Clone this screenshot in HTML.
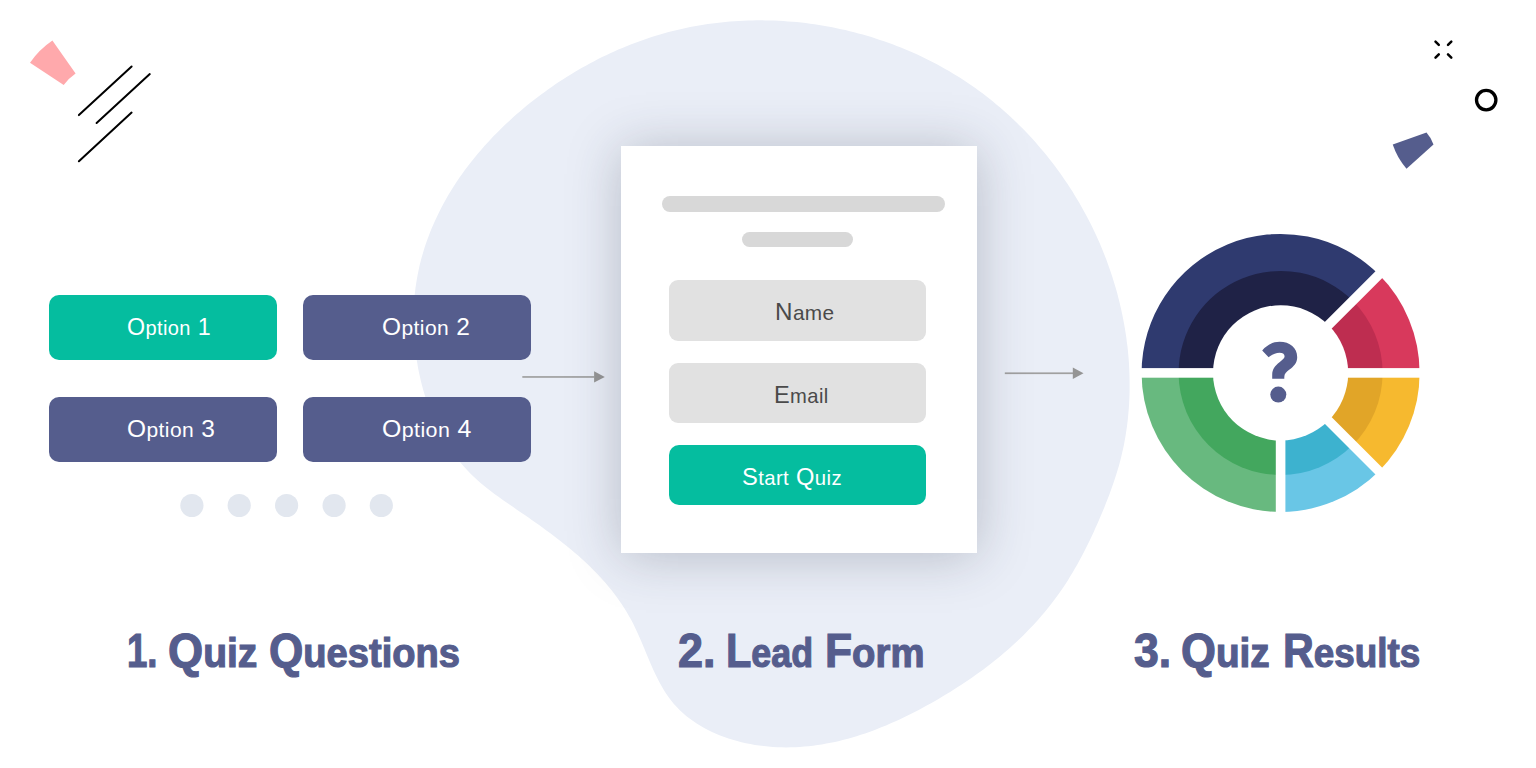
<!DOCTYPE html>
<html><head><meta charset="utf-8">
<style>
html,body{margin:0;padding:0;background:#fff;}
body{width:1536px;height:768px;position:relative;overflow:hidden;font-family:"Liberation Sans",sans-serif;}
.abs{position:absolute;}
svg.full{position:absolute;left:0;top:0;}
.opt{position:absolute;border-radius:10px;}
.teal{background:#05bd9f;}
.purp{background:#555d8d;}
.txt{position:absolute;white-space:nowrap;line-height:1;transform-origin:0 0;}
.card{position:absolute;left:621px;top:146px;width:356px;height:407px;background:#fff;box-shadow:0 3px 50px rgba(45,50,70,0.27);}
.bar{position:absolute;background:#d8d8d8;border-radius:8px;}
.inp{position:absolute;left:47.5px;width:257.5px;height:60.5px;background:#e1e1e1;border-radius:9px;}
.title{position:absolute;white-space:nowrap;line-height:1;font-weight:700;color:#555d8d;transform-origin:0 0;-webkit-text-stroke:1.2px #555d8d;font-size:47.5px;}
.lc{font-size:41px;}
.s{font-size:86%;}
</style></head><body>
<svg class="full" width="1536" height="768" viewBox="0 0 1536 768">
<path d="M425.6 244.5 L427.1 240.3 L428.6 236.2 L430.2 232.1 L431.8 228.0 L433.6 223.9 L435.4 219.9 L437.3 215.9 L439.2 211.9 L441.2 208.0 L443.3 204.1 L445.4 200.2 L447.6 196.3 L449.9 192.5 L452.2 188.7 L454.6 185.0 L457.0 181.3 L459.5 177.6 L462.1 173.9 L464.7 170.3 L467.4 166.7 L470.1 163.2 L472.9 159.7 L475.7 156.2 L478.6 152.8 L481.5 149.4 L484.4 146.0 L487.5 142.7 L490.5 139.4 L493.6 136.1 L496.8 132.9 L500.0 129.7 L503.2 126.5 L506.4 123.4 L509.8 120.4 L513.1 117.3 L516.5 114.3 L519.9 111.4 L523.3 108.5 L526.8 105.6 L530.3 102.8 L533.9 100.0 L537.5 97.2 L541.1 94.5 L544.7 91.9 L548.3 89.2 L552.0 86.7 L555.7 84.1 L559.5 81.6 L563.2 79.2 L567.0 76.8 L570.8 74.4 L574.7 72.1 L578.5 69.8 L582.4 67.6 L586.3 65.4 L590.2 63.3 L594.2 61.2 L598.1 59.1 L602.1 57.1 L606.2 55.2 L610.2 53.3 L614.2 51.4 L618.3 49.6 L622.4 47.9 L626.5 46.2 L630.7 44.5 L634.8 43.0 L639.0 41.4 L643.2 39.9 L647.4 38.5 L651.6 37.1 L655.8 35.8 L660.1 34.5 L664.3 33.3 L668.6 32.1 L672.9 31.0 L677.2 29.9 L681.6 28.9 L685.9 28.0 L690.2 27.1 L694.6 26.2 L699.0 25.5 L703.4 24.7 L707.8 24.1 L712.2 23.5 L716.6 22.9 L721.0 22.4 L725.5 21.9 L729.9 21.6 L734.3 21.2 L738.8 20.9 L743.2 20.7 L747.7 20.5 L752.2 20.4 L756.6 20.3 L761.1 20.3 L765.6 20.4 L770.0 20.5 L774.5 20.6 L779.0 20.8 L783.4 21.1 L787.9 21.4 L792.4 21.7 L796.8 22.1 L801.3 22.6 L805.7 23.1 L810.2 23.7 L814.6 24.3 L819.0 25.0 L823.4 25.7 L827.8 26.5 L832.3 27.3 L836.6 28.2 L841.0 29.2 L845.4 30.1 L849.8 31.2 L854.1 32.3 L858.4 33.4 L862.8 34.6 L867.1 35.8 L871.4 37.1 L875.6 38.5 L879.9 39.9 L884.1 41.3 L888.3 42.8 L892.6 44.3 L896.7 45.9 L900.9 47.6 L905.0 49.3 L909.2 51.0 L913.3 52.8 L917.3 54.6 L921.4 56.5 L925.4 58.5 L929.4 60.5 L933.4 62.5 L937.4 64.6 L941.3 66.7 L945.2 68.9 L949.0 71.1 L952.9 73.4 L956.7 75.7 L960.5 78.1 L964.2 80.5 L967.9 83.0 L971.6 85.5 L975.3 88.1 L978.9 90.7 L982.5 93.3 L986.0 96.0 L989.5 98.8 L993.0 101.6 L996.4 104.4 L999.9 107.3 L1003.2 110.2 L1006.6 113.2 L1009.9 116.2 L1013.1 119.2 L1016.3 122.3 L1019.5 125.4 L1022.7 128.6 L1025.8 131.8 L1028.9 135.0 L1031.9 138.3 L1034.9 141.6 L1037.8 145.0 L1040.7 148.4 L1043.6 151.8 L1046.5 155.3 L1049.2 158.7 L1052.0 162.3 L1054.7 165.8 L1057.4 169.4 L1060.0 173.0 L1062.6 176.7 L1065.1 180.4 L1067.6 184.1 L1070.0 187.8 L1072.5 191.6 L1074.8 195.4 L1077.1 199.2 L1079.4 203.1 L1081.6 207.0 L1083.8 210.9 L1085.9 214.8 L1088.0 218.8 L1090.1 222.8 L1092.1 226.8 L1094.0 230.8 L1095.9 234.8 L1097.8 238.9 L1099.6 243.0 L1101.3 247.1 L1103.0 251.3 L1104.7 255.4 L1106.3 259.6 L1107.8 263.8 L1109.3 268.0 L1110.8 272.2 L1112.2 276.5 L1113.5 280.7 L1114.8 285.0 L1116.1 289.3 L1117.3 293.6 L1118.4 297.9 L1119.5 302.2 L1120.5 306.6 L1121.5 310.9 L1122.4 315.3 L1123.3 319.7 L1124.1 324.1 L1124.9 328.5 L1125.6 332.9 L1126.3 337.3 L1126.8 341.7 L1127.4 346.1 L1127.9 350.6 L1128.3 355.0 L1128.7 359.5 L1129.0 363.9 L1129.2 368.4 L1129.4 372.8 L1129.5 377.3 L1129.6 381.8 L1129.6 386.2 L1129.6 390.7 L1129.5 395.2 L1129.3 399.6 L1129.1 404.1 L1128.8 408.6 L1128.4 413.0 L1128.0 417.5 L1127.5 421.9 L1127.0 426.3 L1126.3 430.7 L1125.7 435.1 L1124.9 439.5 L1124.1 443.9 L1123.2 448.2 L1122.2 452.6 L1121.2 456.9 L1120.1 461.2 L1119.0 465.4 L1117.7 469.7 L1116.4 473.9 L1115.1 478.1 L1113.7 482.3 L1112.2 486.5 L1110.7 490.7 L1109.2 494.9 L1107.6 499.1 L1105.9 503.2 L1104.3 507.4 L1102.6 511.5 L1100.8 515.7 L1099.1 519.8 L1097.3 523.9 L1095.4 528.1 L1093.6 532.2 L1091.7 536.3 L1089.7 540.4 L1087.7 544.4 L1085.7 548.5 L1083.7 552.5 L1081.6 556.5 L1079.4 560.5 L1077.3 564.4 L1075.0 568.3 L1072.8 572.2 L1070.4 576.1 L1068.1 579.9 L1065.7 583.7 L1063.2 587.4 L1060.7 591.1 L1058.1 594.7 L1055.5 598.3 L1052.9 601.8 L1050.2 605.3 L1047.4 608.8 L1044.6 612.2 L1041.7 615.6 L1038.8 618.9 L1035.9 622.2 L1032.9 625.4 L1029.9 628.6 L1026.8 631.8 L1023.7 634.9 L1020.6 638.0 L1017.4 641.0 L1014.1 644.0 L1010.9 647.0 L1007.5 649.9 L1004.2 652.8 L1000.8 655.7 L997.4 658.5 L993.9 661.3 L990.5 664.0 L986.9 666.7 L983.4 669.4 L979.8 672.0 L976.2 674.6 L972.5 677.2 L968.9 679.7 L965.1 682.2 L961.4 684.7 L957.7 687.1 L953.9 689.6 L950.1 691.9 L946.2 694.3 L942.4 696.6 L938.5 698.9 L934.6 701.2 L930.6 703.4 L926.7 705.6 L922.7 707.8 L918.7 709.9 L914.7 712.0 L910.7 714.0 L906.6 716.0 L902.6 718.0 L898.5 719.9 L894.4 721.8 L890.2 723.6 L886.1 725.4 L881.9 727.1 L877.7 728.8 L873.5 730.4 L869.3 731.9 L865.1 733.4 L860.8 734.8 L856.5 736.2 L852.3 737.4 L848.0 738.7 L843.6 739.8 L839.3 740.9 L835.0 741.9 L830.6 742.8 L826.2 743.6 L821.9 744.4 L817.5 745.1 L813.0 745.7 L808.6 746.2 L804.2 746.6 L799.7 746.9 L795.3 747.2 L790.8 747.3 L786.3 747.4 L781.9 747.3 L777.4 747.2 L772.8 746.9 L768.3 746.5 L763.8 746.1 L759.3 745.5 L754.8 744.9 L750.4 744.1 L745.9 743.2 L741.5 742.2 L737.2 741.1 L732.8 739.8 L728.5 738.5 L724.3 737.1 L720.1 735.5 L716.0 733.8 L712.0 732.0 L708.0 730.1 L704.2 728.0 L700.4 725.8 L696.7 723.5 L693.1 721.1 L689.6 718.6 L686.2 715.9 L682.9 713.1 L679.8 710.2 L676.8 707.1 L673.9 703.9 L671.1 700.6 L668.5 697.1 L666.0 693.5 L663.7 689.8 L661.5 686.0 L659.3 682.1 L657.3 678.1 L655.3 674.0 L653.4 669.9 L651.5 665.7 L649.7 661.5 L647.9 657.2 L646.1 653.0 L644.4 648.7 L642.6 644.5 L640.8 640.2 L638.9 636.0 L637.0 631.8 L635.1 627.7 L633.1 623.6 L631.0 619.6 L628.8 615.7 L626.5 611.8 L624.2 608.0 L621.8 604.3 L619.3 600.7 L616.7 597.1 L614.1 593.5 L611.4 590.1 L608.6 586.7 L605.8 583.3 L602.9 580.0 L599.9 576.8 L596.9 573.6 L593.9 570.4 L590.7 567.3 L587.6 564.2 L584.4 561.2 L581.1 558.2 L577.8 555.3 L574.4 552.4 L571.0 549.5 L567.6 546.7 L564.1 543.9 L560.7 541.2 L557.1 538.4 L553.6 535.7 L550.0 533.0 L546.4 530.4 L542.8 527.7 L539.1 525.1 L535.4 522.5 L531.8 519.9 L528.1 517.3 L524.4 514.8 L520.6 512.2 L516.9 509.7 L513.2 507.1 L509.5 504.6 L505.8 502.0 L502.1 499.4 L498.5 496.8 L494.8 494.2 L491.3 491.5 L487.7 488.8 L484.3 486.0 L480.9 483.2 L477.5 480.3 L474.3 477.3 L471.1 474.2 L468.0 471.1 L465.0 467.8 L462.1 464.5 L459.3 461.2 L456.5 457.7 L453.9 454.2 L451.3 450.6 L448.8 446.9 L446.4 443.2 L444.1 439.4 L441.9 435.6 L439.8 431.7 L437.7 427.7 L435.8 423.7 L433.9 419.7 L432.2 415.6 L430.5 411.4 L428.9 407.3 L427.4 403.0 L425.9 398.8 L424.6 394.5 L423.3 390.2 L422.1 385.8 L421.0 381.4 L420.0 377.0 L419.0 372.6 L418.1 368.2 L417.4 363.7 L416.6 359.2 L416.0 354.7 L415.4 350.3 L414.9 345.8 L414.5 341.3 L414.2 336.8 L413.9 332.3 L413.7 327.8 L413.6 323.3 L413.6 318.8 L413.6 314.3 L413.7 309.9 L413.9 305.4 L414.2 300.9 L414.5 296.5 L415.0 292.1 L415.5 287.7 L416.2 283.3 L416.9 278.9 L417.7 274.5 L418.6 270.2 L419.5 265.8 L420.6 261.5 L421.7 257.2 L423.0 253.0 L424.2 248.7Z" fill="#eaeef7"/>
</svg>

<!-- decorations -->
<svg class="full" width="1536" height="768" viewBox="0 0 1536 768">
<path d="M30 62.8 A86 86 0 0 1 52.4 40.6 L75.6 73.4 A45.5 45.5 0 0 0 63.7 85.1 Z" fill="#ffa9ac"/>
<g stroke="#000" stroke-width="2" stroke-linecap="round">
<line x1="78.9" y1="115.1" x2="131.6" y2="66.5"/>
<line x1="96.6" y1="123" x2="149.8" y2="74.1"/>
<line x1="78.9" y1="161.2" x2="131.6" y2="112.6"/>
</g>
<g stroke="#000" stroke-width="2.5" stroke-linecap="round">
<line x1="1435.5" y1="41.6" x2="1438.8" y2="44.9"/>
<line x1="1451.3" y1="41.6" x2="1448" y2="44.9"/>
<line x1="1435.5" y1="57.7" x2="1438.8" y2="54.3"/>
<line x1="1451.3" y1="57.7" x2="1448" y2="54.3"/>
</g>
<circle cx="1486.2" cy="100.1" r="9.7" fill="none" stroke="#000" stroke-width="3.3"/>
<path d="M1392.75 144.5 L1426.5 132.5 A35.8 35.8 0 0 1 1433.5 144.5 L1406.5 168.75 A72 72 0 0 1 1392.75 144.5 Z" fill="#555d8d"/>
<!-- arrows -->
<g fill="#959595" stroke="none">
<rect x="522.3" y="376.1" width="72" height="1.7" fill="#a0a0a0"/>
<path d="M594.1 371.3 L604.8 376.9 L594.1 382.5 Z"/>
<rect x="1004.8" y="372.4" width="68.5" height="1.7" fill="#a0a0a0"/>
<path d="M1072.8 367.5 L1083.5 373.2 L1072.8 378.9 Z"/>
</g>
</svg>

<!-- options -->
<div class="opt teal" style="left:49px;top:295px;width:227.5px;height:64.5px;"></div>
<div class="opt purp" style="left:303px;top:295px;width:228px;height:64.5px;"></div>
<div class="opt purp" style="left:49px;top:397px;width:227.5px;height:64.5px;"></div>
<div class="opt purp" style="left:303px;top:397px;width:228px;height:64.5px;"></div>
<div class="txt" style="left:127px;top:315px;font-size:24px;color:#fff;letter-spacing:0.4px;transform:scaleX(0.97)">O<span class="s">ption</span> 1</div>
<div class="txt" style="left:381.5px;top:315px;font-size:24px;color:#fff;letter-spacing:0.4px;transform:scaleX(1.02)">O<span class="s">ption</span> 2</div>
<div class="txt" style="left:127px;top:417px;font-size:24px;color:#fff;letter-spacing:0.4px;transform:scaleX(1.02)">O<span class="s">ption</span> 3</div>
<div class="txt" style="left:381.5px;top:417px;font-size:24px;color:#fff;letter-spacing:0.4px;transform:scaleX(1.037)">O<span class="s">ption</span> 4</div>

<svg class="full" width="1536" height="768" viewBox="0 0 1536 768">
<g fill="#e2e7ef">
<circle cx="191.9" cy="505.5" r="11.6"/>
<circle cx="239.2" cy="505.5" r="11.6"/>
<circle cx="286.6" cy="505.5" r="11.6"/>
<circle cx="334.1" cy="505.5" r="11.6"/>
<circle cx="381.3" cy="505.5" r="11.6"/>
</g>
</svg>

<!-- card -->
<div class="card">
<div class="bar" style="left:41px;top:50px;width:283px;height:16px;"></div>
<div class="bar" style="left:121px;top:85.5px;width:110.5px;height:15.5px;"></div>
<div class="inp" style="top:134px;"></div>
<div class="inp" style="top:216.5px;"></div>
<div class="inp" style="top:298.5px;background:#05bd9f;height:60.5px;border-radius:10px;"></div>
<div class="txt" style="left:153.5px;top:155px;font-size:23.5px;color:#4a4a4a;letter-spacing:0.4px;transform:scaleX(1.03)">N<span class="s">ame</span></div>
<div class="txt" style="left:153px;top:238px;font-size:23.5px;color:#4a4a4a;letter-spacing:0.4px;transform:scaleX(1.0)">E<span class="s">mail</span></div>
<div class="txt" style="left:120.5px;top:319px;font-size:24px;color:#fff;letter-spacing:0.4px;transform:scaleX(0.985)">S<span class="s">tart</span> Q<span class="s">uiz</span></div>
</div>

<!-- pie -->
<svg class="full" width="1536" height="768" viewBox="0 0 1536 768" id="pie">
<path d="M1280.6 372.9 L1141.60 372.90 A139.0 139.0 0 0 1 1378.89 274.61 Z" fill="#2f3a6f"/>
<path d="M1280.6 372.9 L1378.89 274.61 A139.0 139.0 0 0 1 1419.60 372.90 Z" fill="#d8395c"/>
<path d="M1280.6 372.9 L1419.60 372.90 A139.0 139.0 0 0 1 1378.89 471.19 Z" fill="#f6b92f"/>
<path d="M1280.6 372.9 L1378.89 471.19 A139.0 139.0 0 0 1 1280.60 511.90 Z" fill="#69c6e6"/>
<path d="M1280.6 372.9 L1280.60 511.90 A139.0 139.0 0 0 1 1141.60 372.90 Z" fill="#68b97f"/>
<path d="M1280.6 372.9 L1178.60 372.90 A102.0 102.0 0 0 1 1352.72 300.78 Z" fill="#1f2246"/>
<path d="M1280.6 372.9 L1352.72 300.78 A102.0 102.0 0 0 1 1382.60 372.90 Z" fill="#be2d50"/>
<path d="M1280.6 372.9 L1382.60 372.90 A102.0 102.0 0 0 1 1352.72 445.02 Z" fill="#e1a528"/>
<path d="M1280.6 372.9 L1352.72 445.02 A102.0 102.0 0 0 1 1280.60 474.90 Z" fill="#3db2cf"/>
<path d="M1280.6 372.9 L1280.60 474.90 A102.0 102.0 0 0 1 1178.60 372.90 Z" fill="#43a75e"/>
<circle cx="1280.6" cy="372.9" r="67.6" fill="#fff"/>
<rect x="1130.6" y="368.09999999999997" width="300" height="9.6" fill="#fff"/>
<rect x="0" y="-4.8" width="150" height="9.6" fill="#fff" transform="translate(1280.6 372.9) rotate(90)"/>
<rect x="0" y="-4.8" width="150" height="9.6" fill="#fff" transform="translate(1280.6 372.9) rotate(315)"/>
<rect x="0" y="-4.8" width="150" height="9.6" fill="#fff" transform="translate(1280.6 372.9) rotate(45)"/>
<path id="qm" d="M1262.2 350.4 C1267 345 1273 341.8 1279.6 341.8 C1290 341.8 1297.2 348 1297.2 357.2 C1297.2 363 1293.5 366.5 1289.5 369.5 C1286.2 372 1284.3 373.8 1284.3 377 L1284.3 378.7 L1272.2 378.7 L1272.2 375 C1272.2 369 1275 366 1279.5 362.3 C1282.5 359.8 1284.6 358.2 1284.6 356.2 C1284.6 353.8 1282.4 352.7 1279.6 352.7 C1275.8 352.7 1272.2 354.5 1268.6 357.2 Z" fill="#555d8d"/>
<circle cx="1278.3" cy="394.6" r="8" fill="#555d8d"/>
</svg>

<div class="title" style="left:127.3px;top:627.3px;transform:scaleX(0.771)">1.</div>
<div class="title" style="left:168.0px;top:627.3px;transform:scaleX(0.951)">Q<span class="lc">uiz</span></div>
<div class="title" style="left:268.8px;top:627.3px;transform:scaleX(0.929)">Q<span class="lc">uestions</span></div>
<div class="title" style="left:678.2px;top:627.3px;transform:scaleX(0.947)">2.</div>
<div class="title" style="left:725.8px;top:627.3px;transform:scaleX(0.873)">L<span class="lc">ead</span></div>
<div class="title" style="left:824.9px;top:627.3px;transform:scaleX(0.934)">F<span class="lc">orm</span></div>
<div class="title" style="left:1134.3px;top:627.3px;transform:scaleX(0.939)">3.</div>
<div class="title" style="left:1181.2px;top:627.3px;transform:scaleX(0.945)">Q<span class="lc">uiz</span></div>
<div class="title" style="left:1282.5px;top:627.3px;transform:scaleX(0.898)">R<span class="lc">esults</span></div>
</body></html>
